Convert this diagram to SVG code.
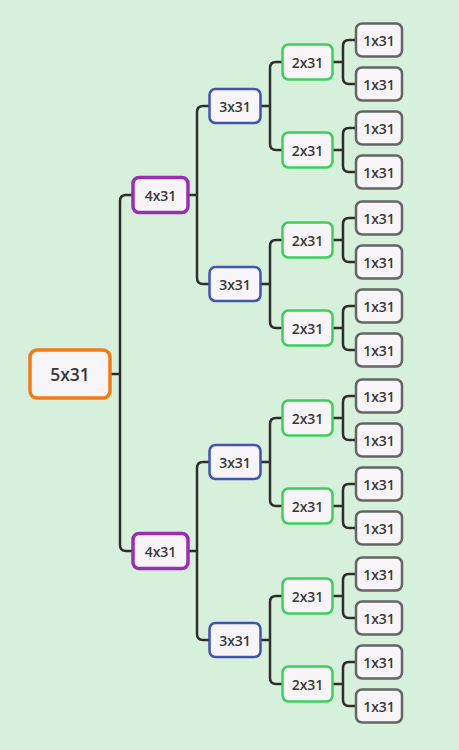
<svg xmlns="http://www.w3.org/2000/svg" width="459" height="750" viewBox="0 0 459 750">
<style>
.bg{fill:#d6f0db}
.n rect{fill:#f7f5f8;stroke-width:2.5}
.n text{font-family:"Open Sans","Lato","Liberation Sans",sans-serif;font-weight:600;fill:#383838;text-anchor:middle;dominant-baseline:central;font-size:14px}
.l0 rect{stroke:#f27a18;stroke-width:3.5}
.l0 text{font-size:17.5px}
.l1 rect{stroke:#9a2db3;stroke-width:3.5}
.l2 rect{stroke:#4253b0}
.l3 rect{stroke:#3ccf5c}
.l4 rect{stroke:#656565}
.c path{fill:none;stroke:#2e2e2e;stroke-width:2.5}
</style>
<rect class="bg" x="0" y="0" width="459" height="750"/>
<g id="connectors" class="c">
<path d="M110 374H120M133 195H126Q120 195 120 201V545Q120 551 126 551H133"/>
<path d="M188 195H197M209.5 106H203Q197 106 197 112V278Q197 284 203 284H209.5"/>
<path d="M188 551H197M209.5 462H203Q197 462 197 468V634Q197 640 203 640H209.5"/>
<path d="M260.5 106H270M282.5 62H276Q270 62 270 68V144Q270 150 276 150H282.5"/>
<path d="M260.5 284H270M282.5 240H276Q270 240 270 246V322Q270 328 276 328H282.5"/>
<path d="M260.5 462H270M282.5 418H276Q270 418 270 424V500Q270 506 276 506H282.5"/>
<path d="M260.5 640H270M282.5 596H276Q270 596 270 602V678Q270 684 276 684H282.5"/>
<path d="M332.5 62H343M356 40H349Q343 40 343 46V78Q343 84 349 84H356"/>
<path d="M332.5 150H343M356 128H349Q343 128 343 134V166Q343 172 349 172H356"/>
<path d="M332.5 240H343M356 218H349Q343 218 343 224V256Q343 262 349 262H356"/>
<path d="M332.5 328H343M356 306H349Q343 306 343 312V344Q343 350 349 350H356"/>
<path d="M332.5 418H343M356 396H349Q343 396 343 402V434Q343 440 349 440H356"/>
<path d="M332.5 506H343M356 484H349Q343 484 343 490V522Q343 528 349 528H356"/>
<path d="M332.5 596H343M356 574H349Q343 574 343 580V612Q343 618 349 618H356"/>
<path d="M332.5 684H343M356 662H349Q343 662 343 668V700Q343 706 349 706H356"/>
</g>
<g id="n5" class="n l0"><rect x="30" y="350" width="80" height="48" rx="7"/><text x="70" y="374">5x31</text></g>
<g id="n4a" class="n l1"><rect x="133" y="177.5" width="55" height="35" rx="6"/><text x="160.5" y="195">4x31</text></g>
<g id="n4b" class="n l1"><rect x="133" y="533.5" width="55" height="35" rx="6"/><text x="160.5" y="551">4x31</text></g>
<g id="n3a" class="n l2"><rect x="209.5" y="89" width="51" height="34" rx="6"/><text x="235" y="106">3x31</text></g>
<g id="n3b" class="n l2"><rect x="209.5" y="267" width="51" height="34" rx="6"/><text x="235" y="284">3x31</text></g>
<g id="n3c" class="n l2"><rect x="209.5" y="445" width="51" height="34" rx="6"/><text x="235" y="462">3x31</text></g>
<g id="n3d" class="n l2"><rect x="209.5" y="623" width="51" height="34" rx="6"/><text x="235" y="640">3x31</text></g>
<g id="n2a" class="n l3"><rect x="282.5" y="44.5" width="50" height="35" rx="6"/><text x="307.5" y="62">2x31</text></g>
<g id="n2b" class="n l3"><rect x="282.5" y="132.5" width="50" height="35" rx="6"/><text x="307.5" y="150">2x31</text></g>
<g id="n2c" class="n l3"><rect x="282.5" y="222.5" width="50" height="35" rx="6"/><text x="307.5" y="240">2x31</text></g>
<g id="n2d" class="n l3"><rect x="282.5" y="310.5" width="50" height="35" rx="6"/><text x="307.5" y="328">2x31</text></g>
<g id="n2e" class="n l3"><rect x="282.5" y="400.5" width="50" height="35" rx="6"/><text x="307.5" y="418">2x31</text></g>
<g id="n2f" class="n l3"><rect x="282.5" y="488.5" width="50" height="35" rx="6"/><text x="307.5" y="506">2x31</text></g>
<g id="n2g" class="n l3"><rect x="282.5" y="578.5" width="50" height="35" rx="6"/><text x="307.5" y="596">2x31</text></g>
<g id="n2h" class="n l3"><rect x="282.5" y="666.5" width="50" height="35" rx="6"/><text x="307.5" y="684">2x31</text></g>
<g id="n1a" class="n l4"><rect x="356" y="23.5" width="46" height="33" rx="6"/><text x="379" y="40">1x31</text></g>
<g id="n1b" class="n l4"><rect x="356" y="67.5" width="46" height="33" rx="6"/><text x="379" y="84">1x31</text></g>
<g id="n1c" class="n l4"><rect x="356" y="111.5" width="46" height="33" rx="6"/><text x="379" y="128">1x31</text></g>
<g id="n1d" class="n l4"><rect x="356" y="155.5" width="46" height="33" rx="6"/><text x="379" y="172">1x31</text></g>
<g id="n1e" class="n l4"><rect x="356" y="201.5" width="46" height="33" rx="6"/><text x="379" y="218">1x31</text></g>
<g id="n1f" class="n l4"><rect x="356" y="245.5" width="46" height="33" rx="6"/><text x="379" y="262">1x31</text></g>
<g id="n1g" class="n l4"><rect x="356" y="289.5" width="46" height="33" rx="6"/><text x="379" y="306">1x31</text></g>
<g id="n1h" class="n l4"><rect x="356" y="333.5" width="46" height="33" rx="6"/><text x="379" y="350">1x31</text></g>
<g id="n1i" class="n l4"><rect x="356" y="379.5" width="46" height="33" rx="6"/><text x="379" y="396">1x31</text></g>
<g id="n1j" class="n l4"><rect x="356" y="423.5" width="46" height="33" rx="6"/><text x="379" y="440">1x31</text></g>
<g id="n1k" class="n l4"><rect x="356" y="467.5" width="46" height="33" rx="6"/><text x="379" y="484">1x31</text></g>
<g id="n1l" class="n l4"><rect x="356" y="511.5" width="46" height="33" rx="6"/><text x="379" y="528">1x31</text></g>
<g id="n1m" class="n l4"><rect x="356" y="557.5" width="46" height="33" rx="6"/><text x="379" y="574">1x31</text></g>
<g id="n1n" class="n l4"><rect x="356" y="601.5" width="46" height="33" rx="6"/><text x="379" y="618">1x31</text></g>
<g id="n1o" class="n l4"><rect x="356" y="645.5" width="46" height="33" rx="6"/><text x="379" y="662">1x31</text></g>
<g id="n1p" class="n l4"><rect x="356" y="689.5" width="46" height="33" rx="6"/><text x="379" y="706">1x31</text></g>
</svg>
